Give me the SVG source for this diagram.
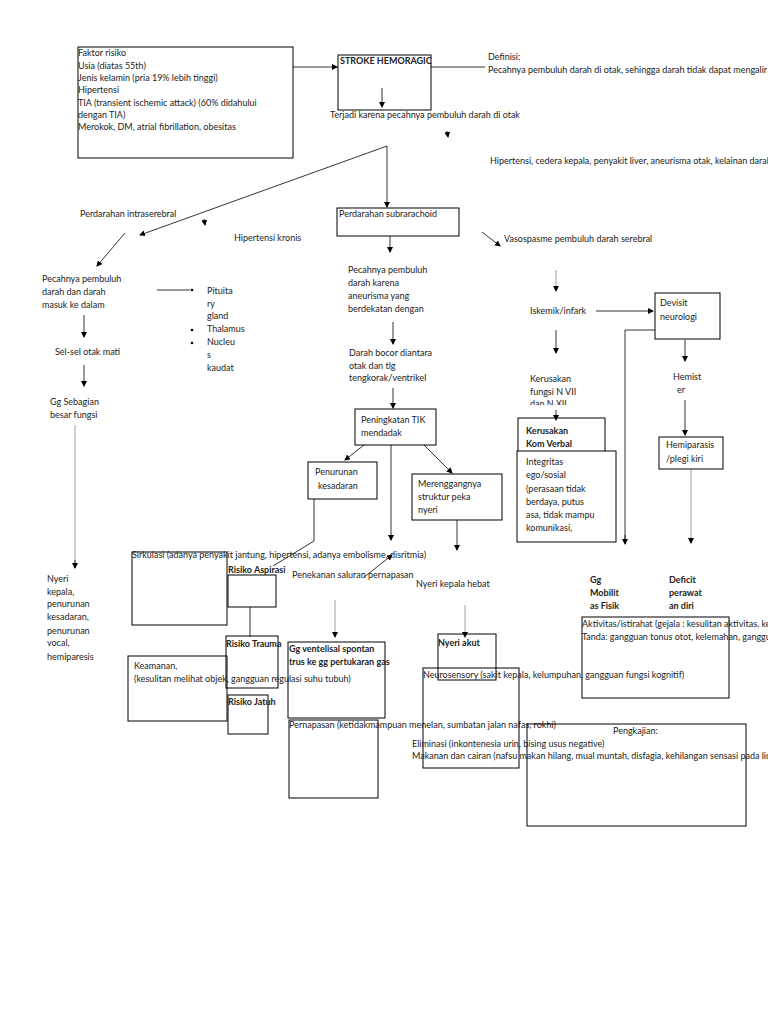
<svg xmlns="http://www.w3.org/2000/svg" width="768" height="1024" viewBox="0 0 768 1024">
<defs>
<marker id="a" markerWidth="6" markerHeight="6" refX="5" refY="3" orient="auto" markerUnits="userSpaceOnUse"><path d="M0,0 L6,3 L0,6 z" fill="#000"/></marker>
<style>
text{font-family:Lato,"Open Sans",sans-serif;font-size:9px;fill:#222}
.b{font-weight:bold}
rect{fill:none;stroke:#000;stroke-width:1}
.c line,.c polyline{stroke:#000;stroke-width:0.8;fill:none}
.g{stroke:#888!important}
</style>
</defs>
<rect width="768" height="1024" fill="#fff" style="fill:#fff;stroke:none"/>
<g class="c">
<line x1="293" y1="67" x2="337" y2="67" marker-end="url(#a)"/>
<line x1="431" y1="67" x2="485" y2="67"/>
<line x1="382" y1="88" x2="382" y2="107" marker-end="url(#a)"/>
<line x1="447" y1="131" x2="448" y2="137" marker-end="url(#a)"/>
<line x1="387" y1="146" x2="140" y2="235" marker-end="url(#a)"/>
<line x1="387" y1="146" x2="387" y2="207" marker-end="url(#a)"/>
<line x1="204" y1="219" x2="205" y2="225" marker-end="url(#a)"/>
<line x1="482" y1="232" x2="500" y2="246" marker-end="url(#a)"/>
<line x1="125" y1="233" x2="97" y2="266" marker-end="url(#a)"/>
<line x1="157" y1="290" x2="190" y2="290"/>
<line x1="84" y1="315" x2="84" y2="337" marker-end="url(#a)"/>
<line x1="84" y1="365" x2="84" y2="386" marker-end="url(#a)"/>
<line class="g" x1="75" y1="425" x2="75" y2="563"/>
<line x1="75" y1="560" x2="75" y2="568" marker-end="url(#a)"/>
<line x1="390" y1="236" x2="390" y2="252" marker-end="url(#a)"/>
<line x1="393" y1="322" x2="393" y2="344" marker-end="url(#a)"/>
<line x1="393" y1="388" x2="393" y2="408" marker-end="url(#a)"/>
<line x1="364" y1="445" x2="345" y2="460" marker-end="url(#a)"/>
<line x1="391" y1="445" x2="391" y2="540" marker-end="url(#a)"/>
<line x1="363" y1="578" x2="392" y2="555" marker-end="url(#a)"/>
<line x1="424" y1="445" x2="452" y2="473" marker-end="url(#a)"/>
<line x1="457" y1="520" x2="457" y2="550" marker-end="url(#a)"/>
<polyline points="314,499 314,541 273,566"/>
<line x1="250" y1="607" x2="250" y2="637"/>
<line class="g" x1="335" y1="600" x2="335" y2="637" marker-end="url(#a)"/>
<line class="g" x1="465" y1="605" x2="465" y2="637" marker-end="url(#a)"/>
<line class="g" x1="556" y1="270" x2="556" y2="291" marker-end="url(#a)"/>
<line x1="596" y1="311" x2="653" y2="311" marker-end="url(#a)"/>
<polyline points="655,330 625,330 625,543"/>
<line x1="625" y1="535" x2="625" y2="544" marker-end="url(#a)"/>
<line x1="556" y1="330" x2="556" y2="353" marker-end="url(#a)"/>
<line x1="556" y1="410" x2="556" y2="420" marker-end="url(#a)"/>
<line x1="685" y1="340" x2="685" y2="361" marker-end="url(#a)"/>
<line x1="685" y1="400" x2="685" y2="435" marker-end="url(#a)"/>
<line class="g" x1="691" y1="469" x2="691" y2="543" marker-end="url(#a)"/>
</g>
<circle cx="192" cy="290" r="1.3"/><circle cx="192" cy="330" r="1.3"/><circle cx="192" cy="343" r="1.3"/>
<g id="faktor"><rect x="78" y="47" width="215" height="111"/>
<text x="78" y="56">Faktor risiko</text><text x="78" y="69">Usia (diatas 55th)</text><text x="78" y="81">Jenis kelamin (pria 19% lebih tinggi)</text><text x="78" y="93">Hipertensi</text><text x="78" y="106">TIA (transient ischemic attack) (60% didahului</text><text x="78" y="118">dengan TIA)</text><text x="78" y="130">Merokok, DM, atrial fibrillation, obesitas</text></g>
<g id="stroke"><rect x="338" y="55" width="93" height="55"/><text x="340" y="64" class="b">STROKE HEMORAGIC</text></g>
<g id="def"><text x="488" y="60">Definisi:</text><text x="488" y="73">Pecahnya pembuluh darah di otak, sehingga darah tidak dapat mengalir</text></g>
<text x="330" y="118">Terjadi karena pecahnya pembuluh darah di otak</text>
<text x="490" y="164">Hipertensi, cedera kepala, penyakit liver, aneurisma otak, kelainan darah</text>
<text x="80" y="217">Perdarahan intraserebral</text>
<text x="234" y="241">Hipertensi kronis</text>
<g id="sub"><rect x="337" y="208" width="122" height="28"/><text x="339" y="217">Perdarahan subrarachoid</text></g>
<text x="504" y="242">Vasospasme pembuluh darah serebral</text>
<text x="42" y="282">Pecahnya pembuluh</text><text x="42" y="295">darah dan darah</text><text x="42" y="308">masuk ke dalam</text>
<text x="207" y="294">Pituita</text><text x="207" y="307">ry</text><text x="207" y="319">gland</text><text x="207" y="332">Thalamus</text><text x="207" y="345">Nucleu</text><text x="207" y="358">s</text><text x="207" y="371">kaudat</text>
<text x="55" y="355">Sel-sel otak mati</text>
<text x="50" y="405">Gg Sebagian</text><text x="50" y="418">besar fungsi</text>
<text x="47" y="582">Nyeri</text><text x="47" y="595">kepala,</text><text x="47" y="607">penurunan</text><text x="47" y="620">kesadaran,</text><text x="47" y="634">penurunan</text><text x="47" y="646">vocal,</text><text x="47" y="660">hemiparesis</text>
<text x="348" y="273">Pecahnya pembuluh</text><text x="348" y="286">darah karena</text><text x="348" y="299">aneurisma yang</text><text x="348" y="312">berdekatan dengan</text>
<text x="349" y="356">Darah bocor diantara</text><text x="349" y="369">otak dan tlg</text><text x="349" y="381">tengkorak/ventrikel</text>
<g id="tik"><rect x="355" y="409" width="81" height="36"/><text x="361" y="423">Peningkatan TIK</text><text x="361" y="436">mendadak</text></g>
<g id="penurunan"><rect x="308" y="462" width="69" height="37"/><text x="315" y="475">Penurunan</text><text x="318" y="489">kesadaran</text></g>
<g id="mereng"><rect x="412" y="474" width="90" height="46"/><text x="418" y="487">Merenggangnya</text><text x="418" y="500">struktur peka</text><text x="418" y="513">nyeri</text></g>
<text x="416" y="587">Nyeri kepala hebat</text>
<g id="sirkulasi"><rect x="132" y="552" width="95" height="73"/><text x="132" y="558">Sirkulasi (adanya penyakit jantung, hipertensi, adanya embolisme, disritmia)</text></g>
<g id="aspirasi"><rect x="228" y="575" width="48" height="32"/><text x="228" y="573" class="b">Risiko Aspirasi</text></g>
<text x="292" y="578">Penekanan saluran pernapasan</text>
<g id="trauma"><rect x="226" y="636" width="52" height="52"/><text x="226" y="647" class="b">Risiko Trauma</text></g>
<g id="keamanan"><rect x="128" y="656" width="99" height="65"/><text x="134" y="669">Keamanan,</text><text x="134" y="682">(kesulitan melihat objek, gangguan regulasi suhu tubuh)</text></g>
<g id="jatuh"><rect x="228" y="695" width="40" height="39"/><text x="228" y="705" class="b">Risiko Jatuh</text></g>
<g id="ventel"><rect x="288" y="642" width="97" height="76"/><text x="289" y="652" class="b">Gg ventelisal spontan</text><text x="289" y="665" class="b">trus ke gg pertukaran gas</text></g>
<g id="pernapasan"><rect x="289" y="720" width="89" height="78"/><text x="289" y="728">Pernapasan (ketidakmampuan menelan, sumbatan jalan nafas, rokhi)</text></g>
<g id="nyeriakut"><rect x="438" y="634" width="58" height="46"/><text x="438" y="646" class="b">Nyeri akut</text></g>
<g id="neuro"><rect x="423" y="668" width="96" height="100"/><text x="423" y="678">Neurosensory (sakit kepala, kelumpuhan, gangguan fungsi kognitif)</text></g>
<text x="412" y="747">Eliminasi (inkontenesia urin, bising usus negative)</text><text x="412" y="759">Makanan dan cairan (nafsu makan hilang, mual muntah, disfagia, kehilangan sensasi pada lidah)</text>
<text x="530" y="314">Iskemik/infark</text>
<g id="devisit"><rect x="655" y="293" width="65" height="46"/><text x="660" y="306">Devisit</text><text x="660" y="320">neurologi</text></g>
<text x="530" y="382">Kerusakan</text><text x="530" y="395">fungsi N VII</text><text x="530" y="407" clip-path="inset(0 0 4px 0)">dan N XII</text>
<g id="komverbal"><rect x="518" y="418" width="87" height="42"/><text x="526" y="434" class="b">Kerusakan</text><text x="526" y="447" class="b">Kom Verbal</text></g>
<g id="integritas"><rect x="517" y="451" width="99" height="91" style="fill:#fff"/><text x="526" y="465">Integritas</text><text x="526" y="478">ego/sosial</text><text x="526" y="492">(perasaan tidak</text><text x="526" y="505">berdaya, putus</text><text x="526" y="518">asa, tidak mampu</text><text x="526" y="531">komunikasi,</text></g>
<text x="673" y="380">Hemist</text><text x="677" y="393">er</text>
<g id="hemi"><rect x="659" y="437" width="64" height="32"/><text x="666" y="448">Hemiparasis</text><text x="666" y="462">/plegi kiri</text></g>
<text x="590" y="583" class="b">Gg</text><text x="590" y="596" class="b">Mobilit</text><text x="590" y="609" class="b">as Fisik</text>
<text x="669" y="583" class="b">Deficit</text><text x="669" y="596" class="b">perawat</text><text x="669" y="609" class="b">an diri</text>
<g id="aktivitas"><rect x="582" y="617" width="147" height="81"/><text x="582" y="627">Aktivitas/istirahat (gejala : kesulitan aktivitas, kelelahan)</text><text x="582" y="640">Tanda: gangguan tonus otot, kelemahan, gangguan sensasi</text></g>
<g id="pengkajian"><rect x="527" y="724" width="219" height="102"/><text x="613" y="734">Pengkajian:</text></g>
</svg>
